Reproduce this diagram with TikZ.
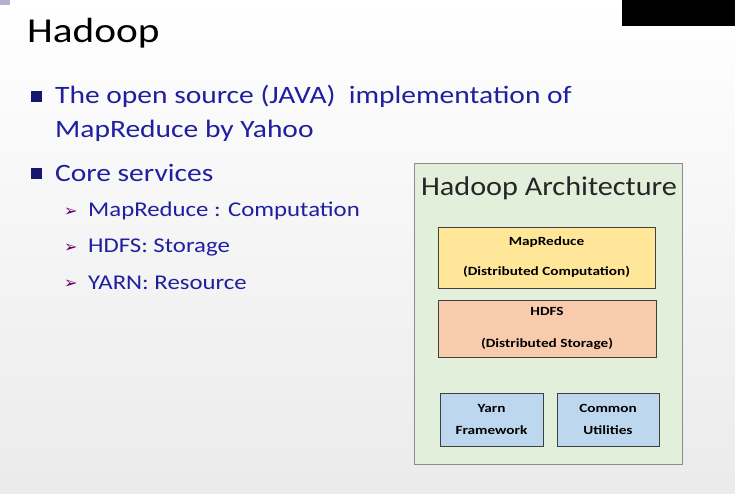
\documentclass[tikz,border=0pt]{standalone}
\usepackage{fontspec}
\setmainfont{Carlito}
\newfontfamily\wideA[FakeStretch=1.18]{Carlito}
\newfontfamily\wideB[FakeStretch=1.12]{Carlito}
\newfontfamily\wideC[FakeStretch=1.22]{Carlito}
\definecolor{mrc}{HTML}{FFE699}
\definecolor{hdc}{HTML}{F8CBAD}
\definecolor{blc}{HTML}{BDD7EE}
\definecolor{grc}{HTML}{E2EFDA}
\definecolor{txc}{HTML}{1F1FA0}
\begin{document}
\begin{tikzpicture}[x=1pt,y=-1pt,
  blk/.style={draw=black!75,line width=0.8pt,align=center,font=\wideC\bfseries\fontsize{12.5}{30}\selectfont},
  bul/.style={fill=txc!70!black,minimum size=11pt,inner sep=0pt},
  main/.style={anchor=west,text=txc,font=\wideA\fontsize{25}{30}\selectfont,inner sep=0pt},
  sub/.style={anchor=west,text=txc,font=\wideA\fontsize{21}{24}\selectfont,inner sep=0pt},
  arr/.style={anchor=west,text=violet!80!black,font=\fontsize{16}{16}\selectfont,inner sep=0pt}]
\shade[top color=white,bottom color=black!8] (0,0) rectangle (735,493);
\useasboundingbox (0,0) rectangle (735,493);
\fill[black] (622,0) rectangle (735,26);
\fill[blue!20!gray!50] (0,0) rectangle (10,5);
\node[anchor=west,inner sep=0pt,font=\wideA\fontsize{35}{38}\selectfont] (t) at (27,33) {Hadoop};
\node[bul] (b1) at (36,96) {};
\node[main] (m1) at (55,96) {The open source (JAVA)\ \ implementation of};
\node[main] (m2) at (55,131) {MapReduce by Yahoo};
\node[bul] (b2) at (36,173) {};
\node[main] (m3) at (55,173) {Core services};
\node[arr] (a1) at (64,212) {\fontspec{DejaVu Sans}➢};
\node[sub] (s1) at (88,211) {MapReduce : Computation};
\node[arr] (a2) at (64,248) {\fontspec{DejaVu Sans}➢};
\node[sub] (s2) at (88,247) {HDFS: Storage};
\node[arr] (a3) at (64,284) {\fontspec{DejaVu Sans}➢};
\node[sub] (s3) at (88,283) {YARN: Resource};
\draw[black!45,fill=grc,line width=1pt] (414,163) rectangle (682,464);
\node[font=\wideB\fontsize{27}{30}\selectfont,text=black!85] (at) at (549,188) {Hadoop Architecture};
\node[blk,fill=mrc,minimum width=217pt,minimum height=61pt] (mr) at (546.5,257.5) {MapReduce\\(Distributed Computation)};
\node[blk,fill=hdc,minimum width=218pt,minimum height=57pt,font=\wideC\bfseries\fontsize{12.5}{32}\selectfont] (hd) at (547,328.5) {HDFS\\(Distributed Storage)};
\node[blk,fill=blc,minimum width=103pt,minimum height=53pt,font=\wideC\bfseries\fontsize{12.5}{22}\selectfont] (ya) at (491.5,419.5) {Yarn\\Framework};
\node[blk,fill=blc,minimum width=102pt,minimum height=53pt,font=\wideC\bfseries\fontsize{12.5}{22}\selectfont] (co) at (608,419.5) {Common\\Utilities};
\end{tikzpicture}
\end{document}
